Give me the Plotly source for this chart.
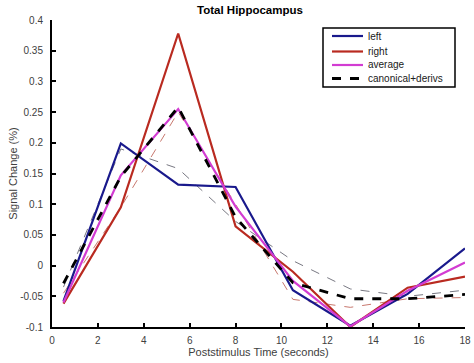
import plotly.graph_objects as go

time_s = [0.5, 3, 5.5, 8, 10.5, 13, 15.5, 18]
left = [-0.058, 0.199, 0.132, 0.128, -0.040, -0.098, -0.046, 0.028]
right = [-0.062, 0.095, 0.378, 0.064, -0.010, -0.100, -0.036, -0.018]
average = [-0.060, 0.147, 0.255, 0.096, -0.025, -0.099, -0.041, 0.005]
canonical = [-0.029, 0.145, 0.258, 0.079, -0.028, -0.054, -0.054, -0.047]
fit_upper = [-0.035, 0.190, 0.158, 0.072, 0.008, -0.038, -0.050, -0.040]
fit_lower = [-0.045, 0.095, 0.250, 0.100, -0.055, -0.068, -0.054, -0.052]

x_ticks = [0, 2, 4, 6, 8, 10, 12, 14, 16, 18]
y_ticks = [-0.1, -0.05, 0, 0.05, 0.1, 0.15, 0.2, 0.25, 0.3, 0.35, 0.4]
y_tick_text = ["-0.1", "-0.05", "0", "0.05", "0.1", "0.15", "0.2", "0.25", "0.3", "0.35", "0.4"]

legend_names = ["left", "right", "average", "canonical+derivs"]
colors = {"left": "rgb(25,25,140)", "right": "rgb(185,42,32)",
          "average": "rgb(210,60,210)", "canonical+derivs": "black"}

W, H = 474, 363
ML, MR, MT, MB = 52, 9, 20, 36
PW, PH = W - ML - MR, H - MT - MB


def px(x):
    return (x - ML) / PW


def py(y):
    return (H - MB - y) / PH


fig = go.Figure()
fig.add_trace(go.Scatter(x=time_s, y=fit_upper, mode="lines", showlegend=False,
                         line=dict(color="rgb(120,120,130)", width=1, dash="dash")))
fig.add_trace(go.Scatter(x=time_s, y=fit_lower, mode="lines", showlegend=False,
                         line=dict(color="rgb(200,120,110)", width=1, dash="dash")))
fig.add_trace(go.Scatter(x=time_s, y=left, mode="lines", name="left", showlegend=False,
                         line=dict(color=colors["left"], width=2.2)))
fig.add_trace(go.Scatter(x=time_s, y=right, mode="lines", name="right", showlegend=False,
                         line=dict(color=colors["right"], width=2.2)))
fig.add_trace(go.Scatter(x=time_s, y=average, mode="lines", name="average", showlegend=False,
                         line=dict(color=colors["average"], width=2.2)))
fig.add_trace(go.Scatter(x=time_s, y=canonical, mode="lines", name="canonical+derivs",
                         showlegend=False,
                         line=dict(color=colors["canonical+derivs"], width=2.8, dash="dash")))

# legend box (compact, MATLAB style)
shapes = [dict(type="rect", xref="paper", yref="paper",
               x0=px(323), x1=px(455), y0=py(87), y1=py(28),
               line=dict(color="black", width=1.5), fillcolor="white", layer="above")]
annotations = []
row_y = [36, 51.5, 65, 78.5]
for name, ry in zip(legend_names, row_y):
    shapes.append(dict(type="line", xref="paper", yref="paper",
                       x0=px(332), x1=px(363), y0=py(ry), y1=py(ry), layer="above",
                       line=dict(color=colors[name],
                                 width=2.8 if name == "canonical+derivs" else 2.2,
                                 dash="dash" if name == "canonical+derivs" else "solid")))
    annotations.append(dict(xref="paper", yref="paper", x=px(366), y=py(ry),
                            xanchor="left", yanchor="middle", showarrow=False,
                            text=name, font=dict(size=10, color="#202020")))

fig.update_layout(
    width=W, height=H,
    margin=dict(l=ML, r=MR, t=MT, b=MB),
    paper_bgcolor="white", plot_bgcolor="white",
    font=dict(family="Arial, Liberation Sans, sans-serif", size=10, color="#404040"),
    title=dict(text="<b>Total Hippocampus</b>", x=250 / W, xanchor="center", y=1 - 10 / H,
               yanchor="middle", font=dict(size=11.5, color="black")),
    showlegend=False,
    shapes=shapes,
    annotations=annotations,
    xaxis=dict(range=[0, 18], tickvals=x_ticks, ticks="inside", ticklen=4, tickwidth=2,
               tickcolor="black", showline=True, linecolor="black", linewidth=2,
               showgrid=False, zeroline=False, automargin=False, ticklabelstandoff=3,
               title=dict(text="Poststimulus Time (seconds)", standoff=3, font=dict(size=11))),
    yaxis=dict(range=[-0.1, 0.4], tickvals=y_ticks, ticktext=y_tick_text, ticks="inside",
               ticklen=4, tickwidth=2, tickcolor="black", showline=True, linecolor="black",
               linewidth=2, showgrid=False, zeroline=False, automargin=False,
               ticklabelstandoff=5,
               title=dict(text="Signal Change (%)", standoff=0, font=dict(size=11))),
)

fig.write_html("out.html", config={"displayModeBar": False},
               post_script="document.body.style.margin='0';document.body.style.padding='0';")
